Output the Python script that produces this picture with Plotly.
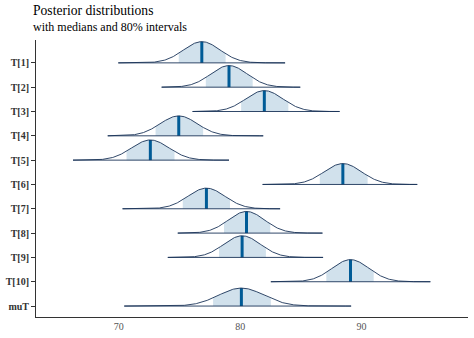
import numpy as np
import plotly.graph_objects as go

# parameters (top to bottom)
params = ["T[1]", "T[2]", "T[3]", "T[4]", "T[5]", "T[6]", "T[7]", "T[8]", "T[9]", "T[10]", "muT"]
medians = [76.84, 79.08, 81.99, 74.94, 72.60, 88.46, 77.22, 80.52, 80.16, 89.09, 80.10]
q10 = [74.94, 77.17, 80.08, 73.03, 70.64, 86.56, 75.27, 78.67, 78.26, 87.10, 77.77]
q90 = [78.80, 81.03, 83.97, 76.95, 74.59, 90.50, 79.16, 82.48, 82.12, 91.00, 82.53]
lows = [69.96, 73.53, 76.08, 69.09, 66.23, 81.85, 70.31, 74.86, 74.04, 82.53, 70.45]
highs = [83.70, 84.95, 88.19, 81.90, 79.08, 94.59, 83.29, 86.78, 86.83, 95.67, 89.14]
spread = [1.51, 1.51, 1.52, 1.53, 1.54, 1.54, 1.52, 1.49, 1.51, 1.52, 1.86]
peaks = [0.873, 0.889, 0.86, 0.82, 0.83, 0.86, 0.85, 0.89, 0.89, 0.91, 0.74]
x_ticks = [70, 80, 90]

LIGHT = "#d1e1ec"
MID_HI = "#005b96"
DARK = "#1a3358"
FONT = "Liberation Serif"

n = len(params)
fig = go.Figure()

def dens(x, m, s, p):
    return p * np.exp(-0.5 * ((x - m) / s) ** 2)

for i, name in enumerate(params):
    base = n - 1 - i
    m, s, p = medians[i], spread[i], peaks[i]
    # shaded 80% interval
    xs = np.linspace(q10[i], q90[i], 80)
    ys = base + dens(xs, m, s, p)
    fig.add_trace(go.Scatter(
        x=np.concatenate([xs, xs[::-1]]),
        y=np.concatenate([ys, np.full(len(xs), base)]),
        fill="toself", fillcolor=LIGHT, mode="none", hoverinfo="skip", showlegend=False))
    # median line
    fig.add_trace(go.Scatter(
        x=[m, m], y=[base, base + dens(m, m, s, p)], mode="lines",
        line=dict(color=MID_HI, width=3), hoverinfo="skip", showlegend=False))
    # outline
    xo = np.linspace(lows[i], highs[i], 300)
    yo = base + dens(xo, m, s, p)
    fig.add_trace(go.Scatter(
        x=np.concatenate([xo, [highs[i], lows[i]]]),
        y=np.concatenate([yo, [base, base]]),
        mode="lines", line=dict(color=DARK, width=0.9), hoverinfo="skip", showlegend=False))

fig.update_layout(
    width=474, height=338,
    margin=dict(l=32, r=6, t=40, b=20),
    paper_bgcolor="white", plot_bgcolor="white",
    font=dict(family=FONT, color="#333333"),
    xaxis=dict(range=[63.18, 98.77], tickvals=x_ticks, ticktext=[str(v) for v in x_ticks],
               showgrid=False, zeroline=False, showline=True, linecolor="#333333", linewidth=1,
               ticks="", tickfont=dict(family=FONT, size=10, color="#555555")),
    yaxis=dict(range=[-0.45, 10.94], tickvals=list(range(n - 1, -1, -1)), ticktext=params,
               showgrid=False, zeroline=False, showline=True, linecolor="#333333", linewidth=1,
               ticks="outside", ticklen=4, tickcolor="#333333", tickwidth=1,
               tickfont=dict(family=FONT, size=10, color="#333333", weight="bold")),
    annotations=[
        dict(text="Posterior distributions", xref="paper", yref="paper", x=-0.012, y=1.108,
             xanchor="left", yanchor="middle", showarrow=False,
             font=dict(family=FONT, size=13.6, color="#000000")),
        dict(text="with medians and 80% intervals", xref="paper", yref="paper", x=-0.012, y=1.047,
             xanchor="left", yanchor="middle", showarrow=False,
             font=dict(family=FONT, size=12, color="#000000")),
    ],
)

fig.write_html("out.html")
